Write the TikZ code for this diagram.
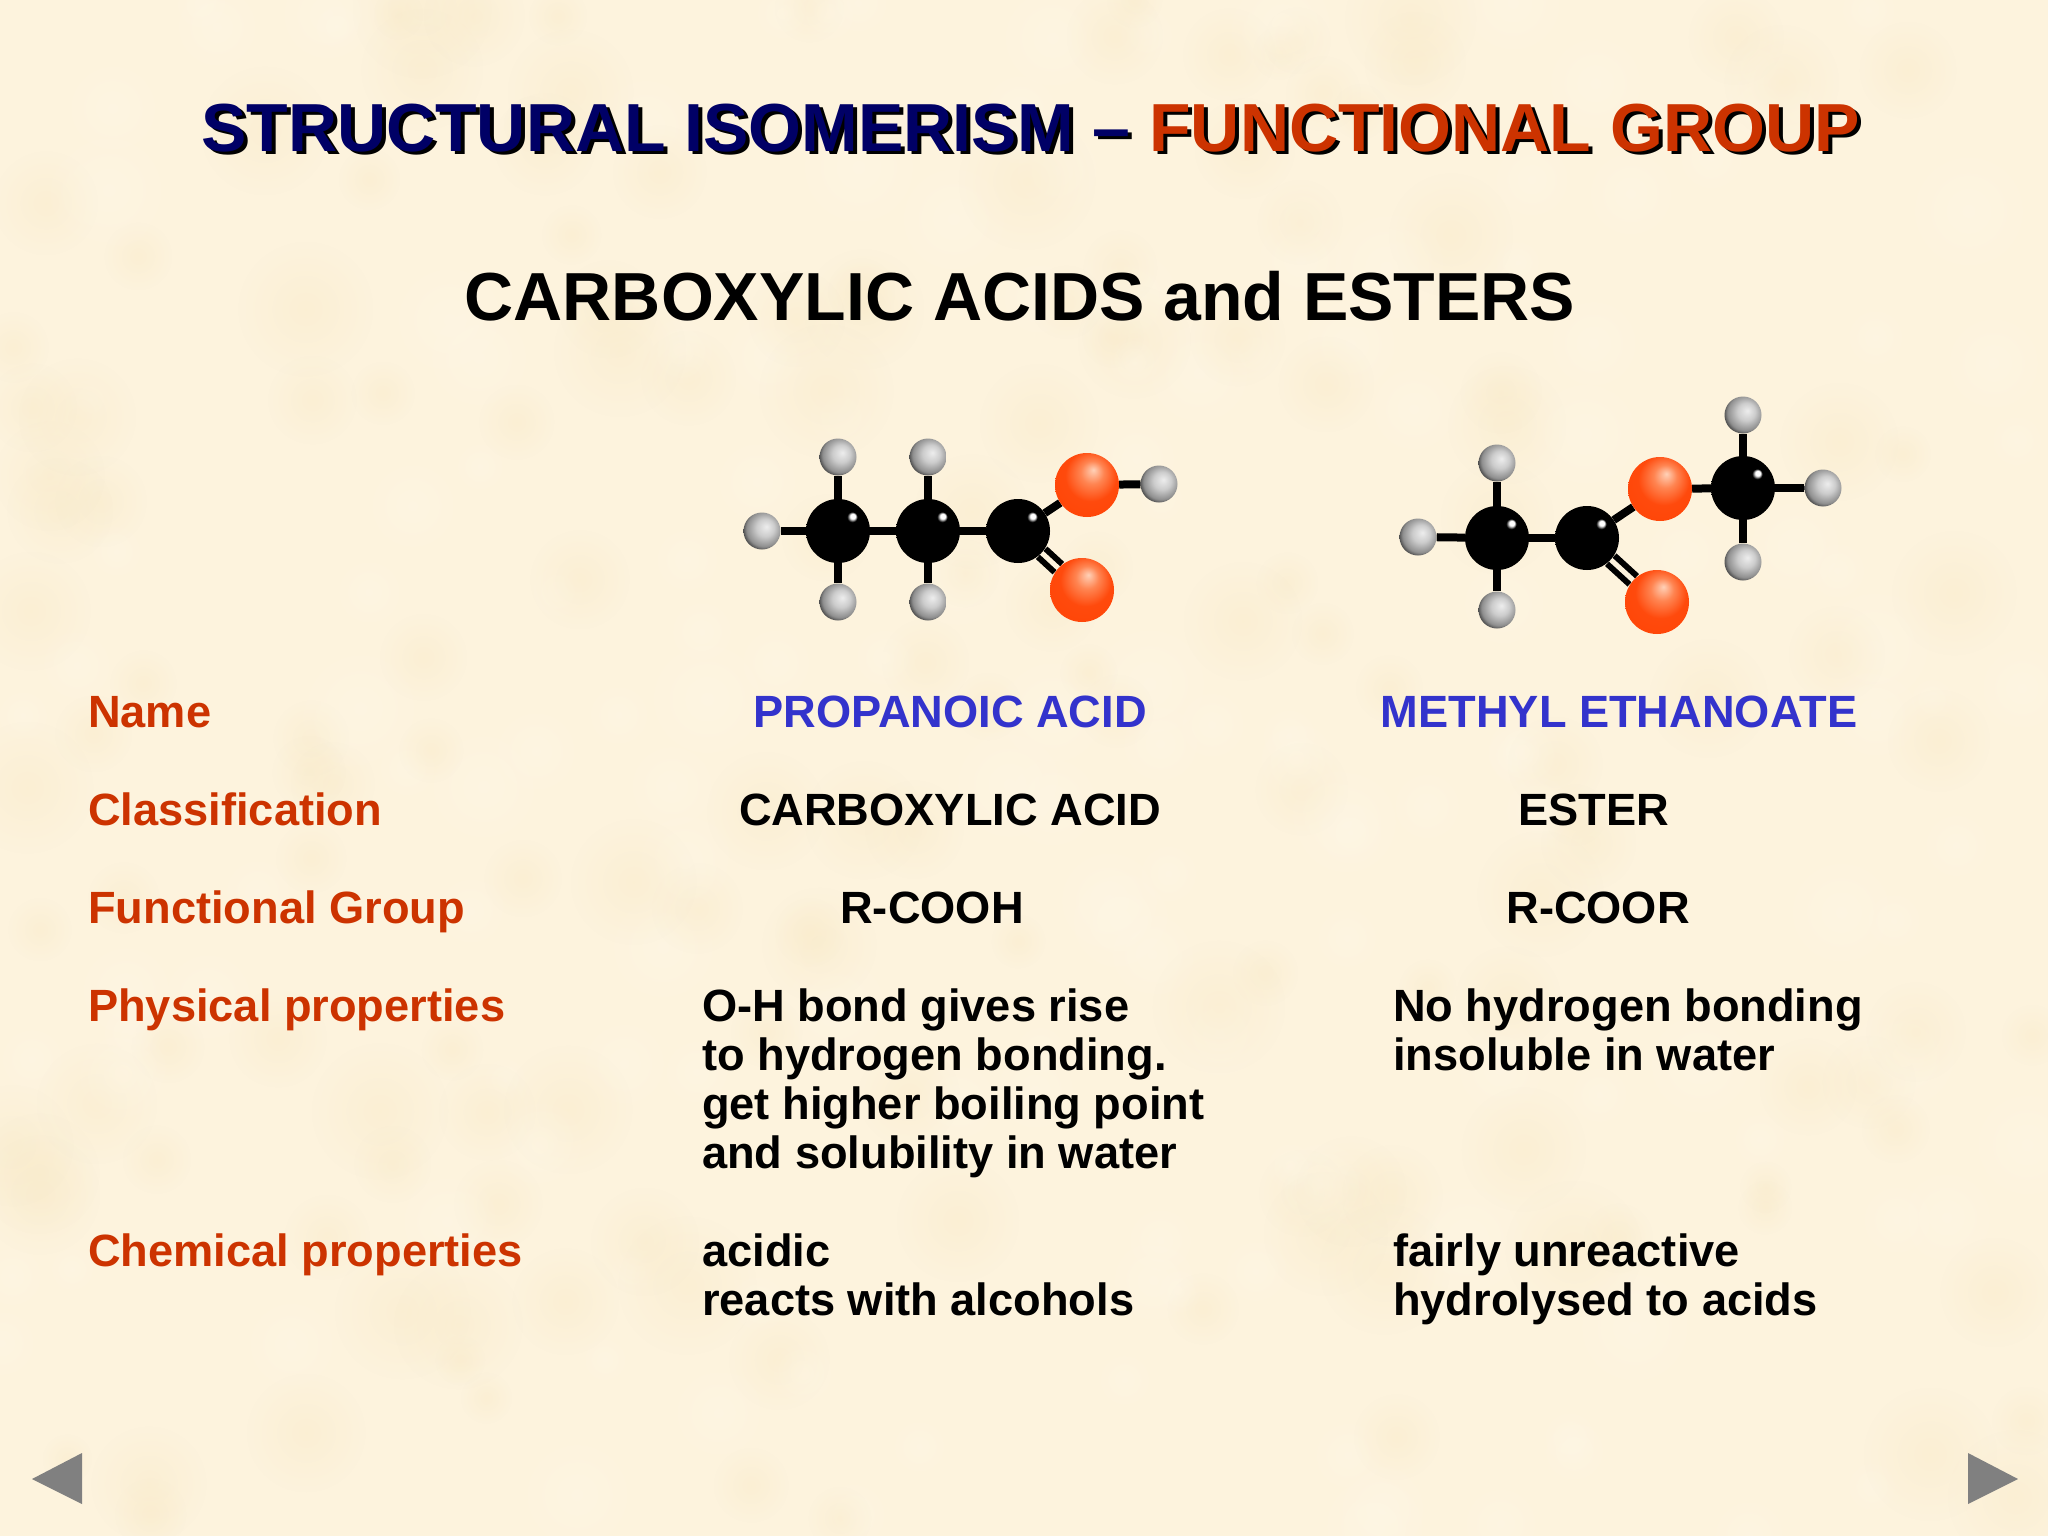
\documentclass[tikz,border=0pt]{standalone}
\usepackage{fontspec}
\setmainfont{Liberation Sans}
\usepackage{tikz}
\usetikzlibrary{backgrounds,fadings}
\definecolor{Paper}{HTML}{FDF3DD}
\definecolor{PaperDark}{HTML}{F8E9C6}
\definecolor{PaperLight}{HTML}{FFF8E8}
\definecolor{TitleNavy}{HTML}{000066}
\definecolor{TitleRust}{HTML}{CC3300}
\definecolor{NameBlue}{HTML}{3333CC}
\tikzfading[name=blotfade,inner color=transparent!60,outer color=transparent!100]
\pgfdeclareradialshading{catom}{\pgfpoint{12bp}{12bp}}{color(0bp)=(white); color(2bp)=(white); color(4bp)=(black); color(50bp)=(black)}
\pgfdeclareradialshading{oatom}{\pgfpoint{5bp}{12bp}}{rgb(0bp)=(1,0.82,0.72); rgb(9bp)=(1,0.52,0.32); rgb(20bp)=(1,0.29,0.05); rgb(50bp)=(1,0.25,0)}
\pgfdeclareradialshading{hatom}{\pgfpoint{6bp}{6bp}}{rgb(0bp)=(0.93,0.93,0.93); rgb(12bp)=(0.80,0.80,0.80); rgb(24bp)=(0.56,0.56,0.56); rgb(30bp)=(0.22,0.22,0.22); rgb(50bp)=(0.2,0.2,0.2)}
\newcommand{\headline}{STRUCTURAL ISOMERISM -- \textcolor{TitleRust}{FUNCTIONAL GROUP}}
\begin{document}
\begin{tikzpicture}[x=1pt,y=-1pt]
\tikzstyle{every node}=[inner sep=0pt,font=\fontsize{45.2}{49}\selectfont\bfseries];
\tikzstyle{big text}=[font=\fontsize{68}{72}\selectfont\bfseries];
\tikzstyle{c atom}=[circle,minimum size=64pt,shading=catom];
\tikzstyle{o atom}=[circle,minimum size=64pt,shading=oatom];
\tikzstyle{h atom}=[circle,minimum size=37pt,shading=hatom];
\tikzstyle{bond}=[draw=black,line width=8pt];
\tikzstyle{dbl bond}=[draw=black,line width=6pt,double=Paper,double distance=5pt];
\tikzstyle{rowhead}=[anchor=base west,text=TitleRust];
\tikzstyle{cell}=[anchor=base west,align=left,text=black];
\tikzstyle{mid}=[anchor=base,text=black];
\tikzstyle{navarrow}=[fill=black!50];
\useasboundingbox (0,0) rectangle (2048,1536);
% headings
\node[big text,anchor=base west,text=black] (titleshadow) at (205,155) {\color{black}STRUCTURAL ISOMERISM -- FUNCTIONAL GROUP};
\node[big text,anchor=base west,text=TitleNavy] (title) at (201,151) {\headline};
\node[big text,anchor=base] (subtitle) at (1020,320) {CARBOXYLIC ACIDS and ESTERS};
% propanoic acid
\node[h atom] (ah1) at (762,531) {};
\node[h atom] (ah2) at (838,457) {};
\node[h atom] (ah3) at (838,602) {};
\node[h atom] (ah4) at (928,457) {};
\node[h atom] (ah5) at (928,602) {};
\node[h atom] (ah6) at (1159,484) {};
\node[c atom] (ac1) at (838,531) {};
\node[c atom] (ac2) at (928,531) {};
\node[c atom] (ac3) at (1018,531) {};
\node[o atom] (ao1) at (1087,485) {};
\node[o atom] (ao2) at (1082,590) {};
% methyl ethanoate
\node[h atom] (eh1) at (1418,537) {};
\node[h atom] (eh2) at (1497,463) {};
\node[h atom] (eh3) at (1497,610) {};
\node[h atom] (eh4) at (1743,415) {};
\node[h atom] (eh5) at (1823,488) {};
\node[h atom] (eh6) at (1743,562) {};
\node[c atom] (ec1) at (1497,538) {};
\node[c atom] (ec2) at (1587,538) {};
\node[c atom] (ec3) at (1743,488) {};
\node[o atom] (eo1) at (1660,489) {};
\node[o atom] (eo2) at (1657,602) {};
\begin{pgfonlayer}{background}
\fill[Paper] (0,0) rectangle (2048,1536);
% paper mottling
\pgfmathsetseed{11}
\foreach \blot in {1,...,320}{
    \pgfmathsetmacro{\bx}{rnd*2048}
    \pgfmathsetmacro{\by}{rnd*1536}
    \pgfmathsetmacro{\br}{25+rnd*45}
    \pgfmathparse{mod(\blot,2)==0 ? "PaperDark" : "PaperLight"}
    \fill[\pgfmathresult,path fading=blotfade] (\bx,\by) circle[radius=\br pt];
}
\draw[bond] (ah1) -- (ac1);
\draw[bond] (ah2) -- (ac1);
\draw[bond] (ah3) -- (ac1);
\draw[bond] (ah4) -- (ac2);
\draw[bond] (ah5) -- (ac2);
\draw[bond] (ac1) -- (ac2);
\draw[bond] (ac2) -- (ac3);
\draw[bond] (ac3) -- (ao1);
\draw[bond] (ao1) -- (ah6);
\draw[dbl bond] (ac3) -- (ao2);
\draw[bond] (eh1) -- (ec1);
\draw[bond] (eh2) -- (ec1);
\draw[bond] (eh3) -- (ec1);
\draw[bond] (ec1) -- (ec2);
\draw[bond] (ec2) -- (eo1);
\draw[bond] (eo1) -- (ec3);
\draw[bond] (eh4) -- (ec3);
\draw[bond] (eh5) -- (ec3);
\draw[bond] (eh6) -- (ec3);
\draw[dbl bond] (ec2) -- (eo2);
\end{pgfonlayer}
% table
\node[rowhead] (rname) at (88,727) {Name};
\node[rowhead] (rclass) at (88,825) {Classification};
\node[rowhead] (rgroup) at (88,923) {Functional Group};
\node[rowhead] (rphys) at (88,1021) {Physical properties};
\node[rowhead] (rchem) at (88,1266) {Chemical properties};
\node[mid,text=NameBlue] (aname) at (950,727) {PROPANOIC ACID};
\node[mid,text=NameBlue] (ename) at (1619,727) {METHYL ETHANOATE};
\node[mid] (aclass) at (950,825) {CARBOXYLIC ACID};
\node[mid] (eclass) at (1594,825) {ESTER};
\node[mid] (agroup) at (932,923) {R-COOH};
\node[mid] (egroup) at (1598,923) {R-COOR};
\node[cell] (aphys) at (702,1168) {O-H bond gives rise\\to hydrogen bonding.\\get higher boiling point\\and solubility in water};
\node[cell] (ephys) at (1393,1070) {No hydrogen bonding\\insoluble in water};
\node[cell] (achem) at (702,1315) {acidic\\reacts with alcohols};
\node[cell] (echem) at (1393,1315) {fairly unreactive\\hydrolysed to acids};
% navigation
\fill[navarrow] (32,1479) -- (82,1453) -- (82,1504) -- cycle;
\fill[navarrow] (2018,1479) -- (1968,1453) -- (1968,1504) -- cycle;
\end{tikzpicture}
\end{document}
